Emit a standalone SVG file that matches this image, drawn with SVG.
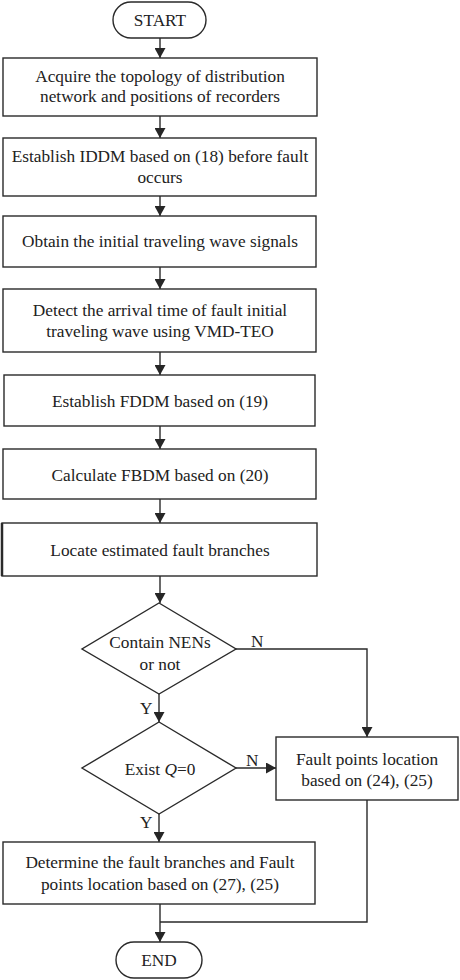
<svg xmlns="http://www.w3.org/2000/svg" width="460" height="980" viewBox="0 0 460 980">
<defs>
<marker id="ah" markerUnits="userSpaceOnUse" markerWidth="11" markerHeight="11" refX="10" refY="5.5" orient="auto">
<path d="M0,0 L10,5.5 L0,11 z" fill="#262626"/>
</marker>
<style>
.b{fill:#fff;stroke:#2a2a2a;stroke-width:1.4}
.c{fill:none;stroke:#2a2a2a;stroke-width:1.4}
.a{fill:none;stroke:#2a2a2a;stroke-width:1.4;marker-end:url(#ah)}
text{font-family:"Liberation Serif","Times New Roman",serif;font-size:17.3px;fill:#222;text-anchor:middle}
.l{text-anchor:start}
</style>
</defs>
<rect width="460" height="980" fill="#fff"/>
<g id="connectors">
<line class="a" x1="160" y1="38" x2="160" y2="58"/>
<line class="a" x1="160" y1="116" x2="160" y2="138"/>
<line class="a" x1="160" y1="196" x2="160" y2="216"/>
<line class="a" x1="160" y1="267" x2="160" y2="289"/>
<line class="a" x1="160" y1="352" x2="160" y2="375"/>
<line class="a" x1="160" y1="426" x2="160" y2="449"/>
<line class="a" x1="160" y1="499" x2="160" y2="523"/>
<line class="a" x1="160" y1="576" x2="160" y2="603"/>
<polyline class="a" points="236,649 367,649 367,737"/>
<line class="a" x1="159" y1="694" x2="159" y2="722"/>
<line class="a" x1="236" y1="768" x2="276" y2="768"/>
<line class="a" x1="159" y1="814" x2="159" y2="842"/>
<polyline class="c" points="367,800 367,922 160,922"/>
<line class="a" x1="160" y1="904" x2="160" y2="942"/>
<text class="l" x="251" y="647">N</text>
<text class="l" x="140" y="714">Y</text>
<text class="l" x="246" y="766">N</text>
<text class="l" x="140" y="828">Y</text>
</g>
<g id="start">
<rect class="b" x="113" y="2" width="93" height="36" rx="18"/>
<text x="160" y="26">START</text>
</g>
<g id="acquire">
<rect class="b" x="3" y="58" width="314" height="58"/>
<text x="160" y="82">Acquire the topology of distribution</text>
<text x="160" y="102">network and positions of recorders</text>
</g>
<g id="iddm">
<rect class="b" x="3" y="138" width="313" height="58"/>
<text x="160" y="162">Establish IDDM based on (18) before fault</text>
<text x="160" y="183">occurs</text>
</g>
<g id="obtain">
<rect class="b" x="3" y="216" width="313" height="51"/>
<text x="160" y="247">Obtain the initial traveling wave signals</text>
</g>
<g id="detect">
<rect class="b" x="3" y="289" width="313" height="63"/>
<text x="160" y="316">Detect the arrival time of fault initial</text>
<text x="160" y="337">traveling wave using VMD-TEO</text>
</g>
<g id="fddm">
<rect class="b" x="4" y="375" width="311" height="51"/>
<text x="160" y="407">Establish FDDM based on (19)</text>
</g>
<g id="fbdm">
<rect class="b" x="3" y="449" width="313" height="50"/>
<text x="160" y="481">Calculate FBDM based on (20)</text>
</g>
<g id="locate">
<rect class="b" x="2" y="523" width="315" height="53"/>
<line x1="2" y1="523" x2="2" y2="576" stroke="#2a2a2a" stroke-width="2.5"/>
<text x="160" y="556">Locate estimated fault branches</text>
</g>
<g id="contain">
<polygon class="b" points="159,603 236,649 159,694 82,649"/>
<text x="160" y="648">Contain NENs</text>
<text x="160" y="670">or not</text>
</g>
<g id="exist">
<polygon class="b" points="159,722 236,768 159,814 82,768"/>
<text x="160" y="775">Exist <tspan font-style="italic">Q</tspan>=0</text>
</g>
<g id="faultpoints">
<rect class="b" x="276" y="737" width="182" height="63"/>
<text x="367" y="765">Fault points location</text>
<text x="367" y="786">based on (24), (25)</text>
</g>
<g id="determine">
<rect class="b" x="3" y="842" width="312" height="62"/>
<text x="160" y="868">Determine the fault branches and Fault</text>
<text x="160" y="890">points location based on (27), (25)</text>
</g>
<g id="end">
<rect class="b" x="116" y="942" width="86" height="36" rx="18"/>
<text x="159" y="966">END</text>
</g>
</svg>
